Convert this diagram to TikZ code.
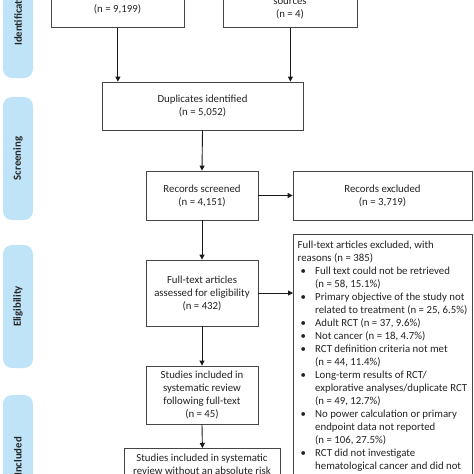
\documentclass[tikz,border=0pt]{standalone}
\usepackage{fontspec}
\setmainfont{Carlito}
\usetikzlibrary{arrows.meta}
\definecolor{barblue}{HTML}{BFE4F7}
\definecolor{boxline}{HTML}{454545}
\definecolor{txt}{HTML}{222222}
\newcommand{\fs}{\fontsize{10.8pt}{13pt}\selectfont}
\newcommand{\mybul}{\makebox[17.5pt][l]{\hspace{3pt}•}}
\newcommand{\myind}{\hspace*{17.5pt}}
\begin{document}
\begin{tikzpicture}[x=1pt,y=-1pt,
  box/.style={draw=boxline, line width=0.8pt, inner sep=0pt, align=center, font=\fs, text=txt},
  lbl/.style={inner sep=0pt, align=center, font=\fs, text=txt},
  arr/.style={-{Triangle[length=5pt,width=5pt]}, line width=0.9pt, draw=black!90},
  bar/.style={fill=barblue, rounded corners=9pt, inner sep=0pt, font=\fs\bfseries, text=black!85, rotate=90, minimum height=30pt}]
\useasboundingbox (0,0) rectangle (474,474);
\clip (0,0) rectangle (474,474);
% phase bars
\node[bar, minimum width=124pt] (ident) at (18,16) {Identification};
\node[bar, minimum width=123pt] (screen) at (18,158.5) {Screening};
\node[bar, minimum width=123pt] (elig) at (18,306.5) {Eligibility};
\node[bar, minimum width=123pt] (incl) at (18,456.5) {Included};
% boxes
\node[box, anchor=south west, minimum width=133pt, minimum height=80pt] (rec) at (51,28) {};
\node[lbl] (rect) at (117.5,9) {(n = 9,199)};
\node[box, anchor=south west, minimum width=134pt, minimum height=80pt] (oth) at (223,28) {};
\node[lbl] (otht) at (290,9.5) {sources\\(n = 4)};
\node[box, minimum width=201pt, minimum height=48pt] (dup) at (202.5,106) {Duplicates identified\\(n = 5,052)};
\node[box, minimum width=112pt, minimum height=49pt] (scr) at (202,195.5) {Records screened\\(n = 4,151)};
\node[box, minimum width=179pt, minimum height=49pt] (exc) at (382.5,195.5) {Records excluded\\(n = 3,719)};
\node[box, minimum width=112pt, minimum height=66pt] (ass) at (202,293) {Full-text articles\\assessed for eligibility\\(n = 432)};
\node[box, minimum width=112pt, minimum height=58pt] (stu) at (202,395) {Studies included in\\systematic review\\following full-text\\(n = 45)};
\node[box, anchor=north west, minimum width=156pt, minimum height=80pt] (last) at (124,448) {};
\node[lbl, anchor=north] (lastt) at (202,454) {Studies included in systematic\\review without an absolute risk};
\node[box, anchor=north west, minimum width=179pt, minimum height=330pt] (ftx) at (293,234) {};
\node[lbl, anchor=north west, align=left] (ftxt) at (297.5,241) {Full-text articles excluded, with\\
reasons (n = 385)\\
\mybul Full text could not be retrieved\\
\myind (n = 58, 15.1\%)\\
\mybul Primary objective of the study not\\
\myind related to treatment (n = 25, 6.5\%)\\
\mybul Adult RCT (n = 37, 9.6\%)\\
\mybul Not cancer (n = 18, 4.7\%)\\
\mybul RCT definition criteria not met\\
\myind (n = 44, 11.4\%)\\
\mybul Long-term results of RCT/\\
\myind explorative analyses/duplicate RCT\\
\myind (n = 49, 12.7\%)\\
\mybul No power calculation or primary\\
\myind endpoint data not reported\\
\myind (n = 106, 27.5\%)\\
\mybul RCT did not investigate\\
\myind hematological cancer and did not\\
\myind report parameters required to};
% connectors
\draw[arr] (rec.south) -- (rec.south |- dup.north);
\draw[arr] (oth.south) -- (oth.south |- dup.north);
\draw[arr] (dup.south) -- (scr.north);
\draw[arr] (scr.east) -- (exc.west);
\draw[arr] (scr.south) -- (ass.north);
\draw[arr] (ass.east) -- (ass.east -| ftx.west);
\draw[arr] (ass.south) -- (stu.north);
\draw[arr] (stu.south) -- (last.north);
\end{tikzpicture}
\end{document}
